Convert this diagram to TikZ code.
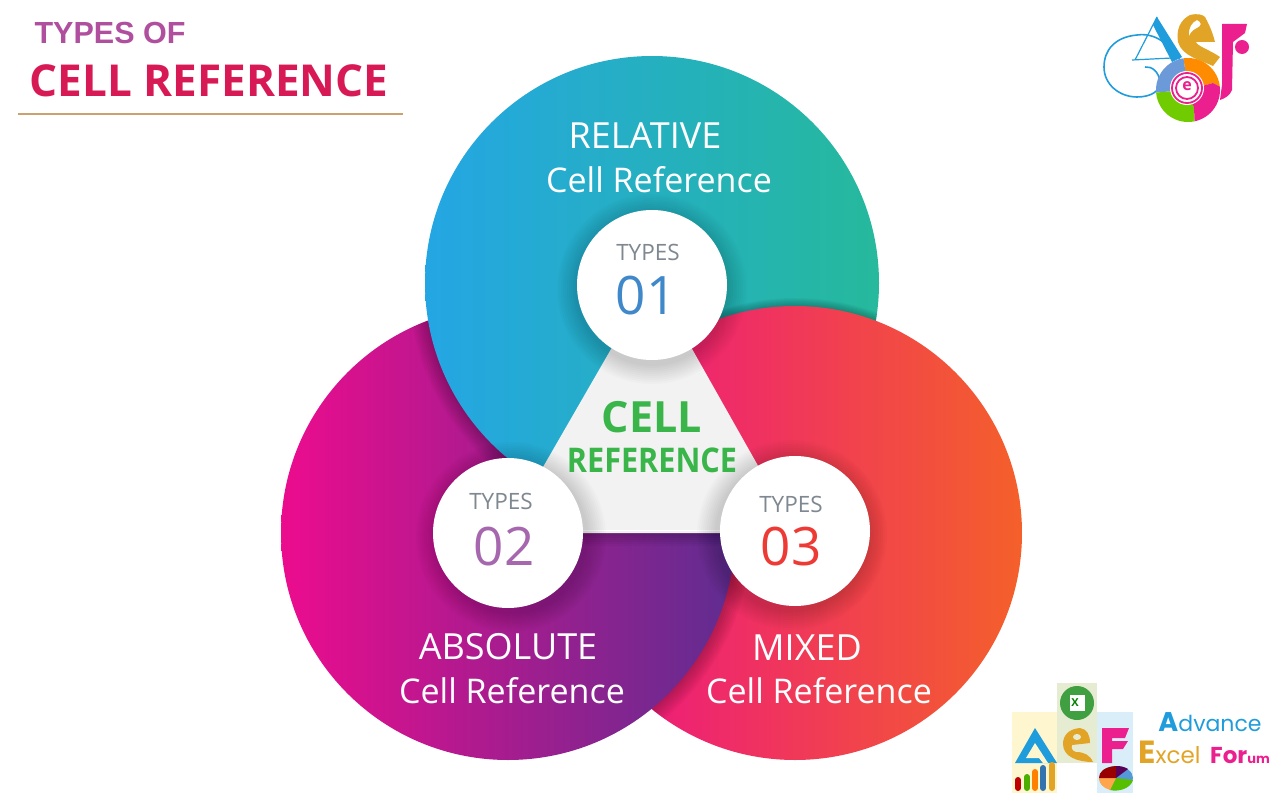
\documentclass[tikz,border=0pt]{standalone}
\usepackage{xcolor}
\usepackage{fontspec}
\usetikzlibrary{calc}
\setmainfont{Open Sans}
\newfontfamily\labelfont{Open Sans}
\newfontfamily\reffont[FakeStretch=0.9]{Open Sans}
\newfontfamily\headfont{Liberation Sans}
\newfontfamily\logofont{Poppins}
\definecolor{bluel}{HTML}{24A6E4}
\definecolor{bluer}{HTML}{26B99C}
\definecolor{purl}{HTML}{EC0C8E}
\definecolor{purr}{HTML}{5F2D90}
\definecolor{redl}{HTML}{EC1088}
\definecolor{redr}{HTML}{F4602A}
\definecolor{goldlogo}{HTML}{E2A426}
\definecolor{pinklogo}{HTML}{EC1F8E}
\definecolor{bluelogo}{HTML}{1F9CDC}
\definecolor{wordgray}{HTML}{7F8790}
\definecolor{cellgreen}{HTML}{39B54A}
\definecolor{paleyellow}{HTML}{FDF6CF}
\definecolor{palegreen}{HTML}{E6ECD2}
\definecolor{paleblue}{HTML}{D9EEF8}
\definecolor{numblue}{HTML}{3F88C9}
\definecolor{numpurple}{HTML}{A667AE}
\definecolor{numred}{HTML}{EE3A34}
\definecolor{titlepurple}{HTML}{B04F9E}
\definecolor{titlered}{HTML}{D71A55}
\definecolor{ruletan}{HTML}{C9A272}
\begin{document}
\begin{tikzpicture}[x=1pt,y=-1pt,
	typecircle/.style={circle,fill=white,minimum size=150pt,inner sep=0pt},
	bigname/.style={anchor=base,text=white,font=\labelfont\fontsize{36}{40}\selectfont},
	cellname/.style={anchor=base,text=white,font=\labelfont\fontsize{34}{40}\selectfont},
	typeword/.style={anchor=base,text=wordgray,font=\labelfont\fontsize{22.5}{26}\selectfont},
	typenum/.style={anchor=base,font=\labelfont\fontsize{53}{56}\selectfont},
	logoname/.style={anchor=base,inner sep=0pt,font=\logofont\fontsize{22}{24}\selectfont}]
	\useasboundingbox (0,0) rectangle (1280,800);
	\coordinate (relcen) at (652,283);
	\coordinate (abscen) at (508,533);
	\coordinate (mixcen) at (795,533);
	% big circles
	\shade[left color=redl,right color=redr] (mixcen) circle (227pt);
	\begin{scope}
		\clip (mixcen) circle (227pt);
		\foreach \r in {2,4,...,16}
			\fill[black,opacity=0.03] (abscen) circle (227pt+\r pt);
	\end{scope}
	\shade[left color=purl,right color=purr] (abscen) circle (227pt);
	\begin{scope}
		\clip (abscen) circle (227pt);
		\foreach \r in {2,4,...,16}
			\fill[black,opacity=0.03] (relcen) circle (227pt+\r pt);
	\end{scope}
	\shade[left color=bluel,right color=bluer] (relcen) circle (227pt);
	\begin{scope}
		\clip (relcen) circle (227pt);
		\foreach \r in {1,2,...,8}
			\fill[black,opacity=0.03] (mixcen) circle (227pt+\r pt);
	\end{scope}
	\begin{scope}
		\clip (relcen) circle (228.5pt);
		\shade[left color=redl,right color=redr] (mixcen) circle (227pt);
	\end{scope}
	% centre
	\foreach \r in {1,3,...,13}
		\fill[black,opacity=0.03] (505,533+\r) rectangle (796,533);
	\fill[black!5] (652,278) -- (505,533) -- (796,533) -- cycle;
	\draw[white,line width=1pt] (575,530) -- (730,530);
	\foreach \r in {2,4,...,20} {
		\fill[black,opacity=0.014] (652,289) circle (75pt+\r pt);
		\fill[black,opacity=0.014] (511,537) circle (75pt+\r pt);
		\fill[black,opacity=0.014] (792,535) circle (75pt+\r pt);
	}
	\node[typecircle] (typeone) at (652,285) {};
	\node[typecircle] (typetwo) at (508,533) {};
	\node[typecircle] (typethree) at (795,531) {};
	% texts
	\node[bigname] (relname) at (645,148) {RELATIVE};
	\node[cellname] (relcell) at (659,192) {Cell Reference};
	\node[bigname] (absname) at (508,659) {ABSOLUTE};
	\node[cellname] (abscell) at (512,703) {Cell Reference};
	\node[bigname] (mixname) at (807,660) {MIXED};
	\node[cellname] (mixcell) at (819,703) {Cell Reference};
	\node[typeword] (wordone) at (648,260) {TYPES};
	\node[typeword] (wordtwo) at (501,509) {TYPES};
	\node[typeword] (wordthree) at (791,512) {TYPES};
	\node[typenum,text=numblue] (numone) at (646,314) {01};
	\node[typenum,text=numpurple] (numtwo) at (504,565) {02};
	\node[typenum,text=numred] (numthree) at (791,565) {03};
	\node[anchor=base,text=cellgreen,font=\labelfont\bfseries\fontsize{43}{48}\selectfont] (cellword) at (652,432) {CELL};
	\node[anchor=base,text=cellgreen,font=\reffont\bfseries\fontsize{34}{36}\selectfont] (refword) at (652,472) {REFERENCE};
	% title
	\node[anchor=base,text=titlepurple,font=\headfont\bfseries\fontsize{30.5}{32}\selectfont] (titletop) at (110,44) {TYPES OF};
	\node[anchor=base,text=titlered,font=\bfseries\fontsize{44}{46}\selectfont] (titlemain) at (209,96) {CELL REFERENCE};
	\coordinate (ruleleft) at (18,113.7);
	\coordinate (ruleright) at (403,113.7);
	\draw[ruletan,line width=2.4pt] (ruleleft) -- (ruleright);
	% logo top right
	\draw[bluelogo,line width=1.6pt] (1180,60) .. controls (1165,38) and (1150,33) .. (1137,35)
		.. controls (1115,37) and (1104,50) .. (1104,67)
		.. controls (1104,85) and (1120,97) .. (1137,97)
		.. controls (1152,97) and (1161,90) .. (1160,82)
		.. controls (1159,72) and (1152,66) .. (1145,67);
	\draw[bluelogo,line width=1.2pt] (1157,17) -- (1135,60) (1132,60) -- (1172,58);
	\fill[bluelogo] (1157,17) -- (1182,57) -- (1172,62) -- (1153,25) -- cycle;
	\fill[goldlogo,even odd rule] (1190,15) .. controls (1198,13) and (1203,15) .. (1205,17)
		.. controls (1210,26) and (1213,34) .. (1215,42) -- (1196,42)
		.. controls (1197,46) and (1210,50) .. (1220,57) -- (1213,66)
		.. controls (1200,60) and (1182,56) .. (1178,42)
		.. controls (1176,30) and (1180,20) .. (1190,15) -- cycle
		(1189,36) .. controls (1188,28) and (1192,22) .. (1197,20)
		.. controls (1202,22) and (1202,26) .. (1197,28)
		.. controls (1193,30) and (1191,32) .. (1189,36) -- cycle;
	\coordinate (piecen) at (1188,90);
	\begin{scope}
		\clip (piecen) circle (32pt);
		\fill[orange!90!yellow] (piecen) -- (1183,55) -- (1230,50) -- (1230,92) -- (1213,83) -- cycle;
		\fill[cyan!50!blue!60!white] (piecen) -- (1183,55) -- (1150,50) -- (1150,93) -- cycle;
		\fill[green!45!yellow!80!black] (piecen) -- (1150,93) -- (1150,130) -- (1195,130) -- (1194,108) -- cycle;
		\fill[pinklogo] (piecen) -- (1213,83) -- (1230,92) -- (1230,130) -- (1195,130) -- (1194,108) -- cycle;
	\end{scope}
	\fill[pinklogo] (1222,24) -- (1247,24) -- (1245,33) -- (1233,42) -- (1232,90)
		.. controls (1230,95) and (1226,98) .. (1220,100) -- (1222,85) -- cycle;
	\fill[pinklogo] (1242,47) circle (7pt);
	\fill[white] (1187,88) circle (17pt);
	\draw[pinklogo,line width=1.8pt] (1187,88) circle (15pt);
	\draw[pinklogo,line width=1.8pt] (1187,88) circle (11pt);
	\node[text=pinklogo,inner sep=0pt,font=\bfseries\fontsize{16}{16}\selectfont] (logoe) at (1187,86) {e};
	% logo bottom right
	\fill[paleyellow] (1012,712) rectangle (1057,793);
	\fill[palegreen] (1057,683) rectangle (1097,763);
	\fill[paleblue] (1097,712) rectangle (1133,793);
	\fill[green!50!black!75!white] (1077,703) circle (17pt);
	\fill[white] (1070,695) rectangle (1085,711);
	\node[text=green!50!black,inner sep=0pt,font=\bfseries\fontsize{11}{11}\selectfont] (excelx) at (1075,703) {X};
	\fill[bluelogo] (1035,728) -- (1015,763) -- (1057,763) -- cycle;
	\fill[paleyellow] (1035,743) -- (1026,758) -- (1039,758) -- (1043,763) -- (1048,763) -- cycle;
	\foreach \x/\t/\c in {1018/780/red!75!black,1027/777/green!55!black!70!yellow,1035/772/orange,1043/768/cyan!60!blue!80!black,1052/765/goldlogo}
		\draw[\c,line width=6pt,line cap=round] (\x,788) -- (\x,\t);
	\fill[goldlogo] (1080,728) .. controls (1068,729) and (1063,736) .. (1063,744)
		.. controls (1063,757) and (1078,762) .. (1093,762)
		.. controls (1090,755) and (1084,752) .. (1076,752)
		.. controls (1072,751) and (1071,748) .. (1072,745)
		-- (1090,743) .. controls (1090,735) and (1087,729) .. (1080,728) -- cycle;
	\fill[palegreen] (1077,737) ellipse (4pt and 3pt);
	\fill[pinklogo] (1102,728) -- (1129,728) -- (1125,738) -- (1112,738) -- (1112,741) -- (1128,741) -- (1123,749) -- (1112,749) -- (1112,763) -- (1102,763) -- cycle;
	\coordinate (minicen) at (1116,778);
	\fill[cyan!60!blue!70!white] (minicen) ellipse (17pt and 12pt);
	\fill[green!55!yellow!75!black] (minicen) -- (1133,780) .. controls (1130,789) and (1118,792) .. (1110,790) -- cycle;
	\fill[orange!70!white] (minicen) -- (1110,790) .. controls (1103,788) and (1099,783) .. (1099,778) -- cycle;
	\fill[red!60!black] (minicen) -- (1099,778) .. controls (1099,772) and (1104,767) .. (1116,766) -- cycle;
	\fill[violet!70!black] (minicen) -- (1116,766) .. controls (1121,766) and (1125,767) .. (1128,769) -- cycle;
	\node[logoname,text=bluelogo] (logoadvance) at (1210,731) {\textbf{\fontsize{27}{27}\selectfont A}dvance};
	\node[logoname,text=goldlogo,anchor=base west] (logoexcel) at (1138,763) {\textbf{\fontsize{32}{32}\selectfont E}\fontsize{23}{24}\selectfont xcel};
	\node[logoname,text=pinklogo,anchor=base west] (logofor) at (1210,763) {\fontsize{23}{24}\selectfont\textbf{For}\fontsize{13}{13}\selectfont\textbf{um}};
\end{tikzpicture}
\end{document}
